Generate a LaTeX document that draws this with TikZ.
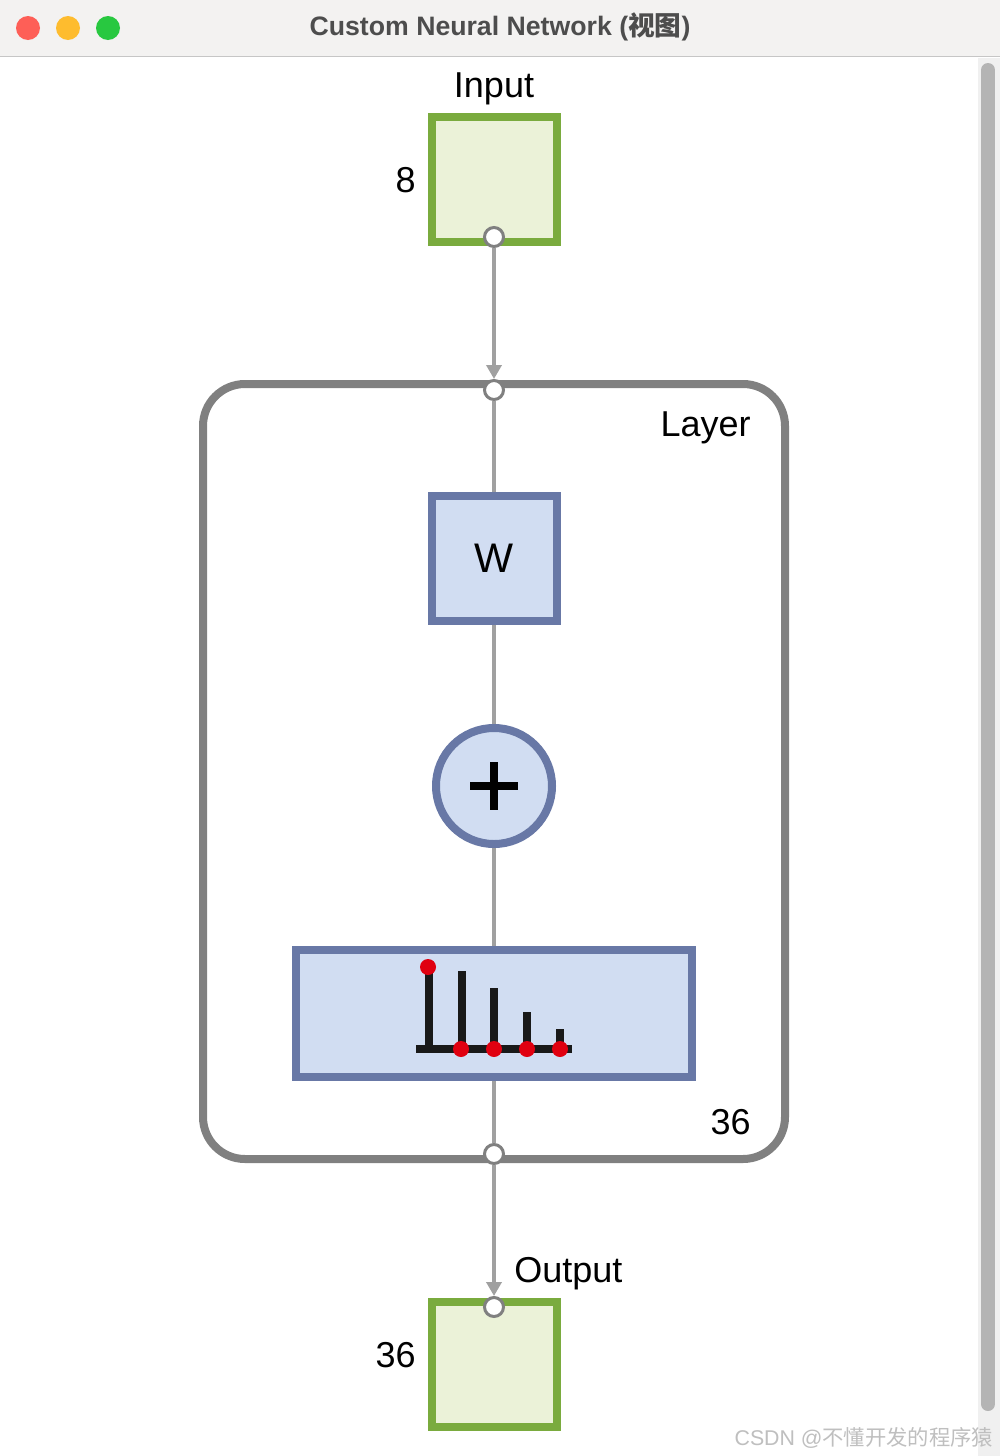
\documentclass[tikz,border=0pt]{standalone}
\usepackage{fontspec}
\setmainfont{Liberation Sans}
\newfontfamily\cjk{Noto Sans CJK SC}
\usetikzlibrary{arrows.meta}
\definecolor{grn}{HTML}{7AAB3E}
\definecolor{grnf}{HTML}{EBF2D8}
\definecolor{blu}{HTML}{6878A6}
\definecolor{bluf}{HTML}{D1DDF2}
\definecolor{lgray}{HTML}{A0A0A0}
\definecolor{dgray}{HTML}{808080}
\definecolor{rd}{HTML}{E00010}
\begin{document}
\begin{tikzpicture}[x=0.75pt,y=-0.75pt,
 io/.style={draw=grn,fill=grnf,line width=8pt*0.75},
 blk/.style={draw=blu,fill=bluf,line width=8pt*0.75},
 wire/.style={draw=lgray,line width=4.5pt*0.75},
 port/.style={circle,draw=dgray,fill=white,line width=3pt*0.75,minimum size=19pt*0.75,inner sep=0pt},
 lbl/.style={font=\fontsize{27pt}{27pt}\selectfont,inner sep=0pt}]
\useasboundingbox (0,0) rectangle (1000,1456);
\fill[white] (0,0) rectangle (1000,1456);
% title bar
\fill[fill={rgb,255:red,243;green,242;blue,241}] (0,0) rectangle (1000,56);
\draw[lgray!60,line width=0.75pt] (0,56.5) -- (1000,56.5);
\node[circle,fill={rgb,255:red,254;green,95;blue,87},minimum size=18pt,inner sep=0pt] (r) at (28,28) {};
\node[circle,fill={rgb,255:red,254;green,188;blue,46},minimum size=18pt,inner sep=0pt] (y) at (68,28) {};
\node[circle,fill={rgb,255:red,40;green,200;blue,64},minimum size=18pt,inner sep=0pt] (g) at (108,28) {};
\node[font=\bfseries\fontsize{20pt}{20pt}\selectfont,text={rgb,255:red,77;green,77;blue,77}] (title) at (500,27) {Custom Neural Network ({\cjk 视图})};
% scrollbar
\fill[black!6] (978,58) rectangle (1000,1456);
\draw[line width=14pt*0.75,line cap=round,color={rgb,255:red,180;green,180;blue,180}] (988,70) -- (988,1404);
% layer frame
\draw[dgray,line width=8pt*0.75,rounded corners=42pt*0.75] (203,384) rectangle (785,1159);
\node[lbl,anchor=base east] (ltxt) at (751,436) {Layer};
\node[lbl,anchor=base east] (n36) at (751,1134) {36};
% nodes
\node[io,minimum width=125pt*0.75,minimum height=125pt*0.75,inner sep=0pt] (in) at (494,179) {};
\node[lbl,anchor=base] (intxt) at (494,97) {Input};
\node[lbl,anchor=base east] (n8) at (416,192) {8};
\node[blk,minimum width=125pt*0.75,minimum height=125pt*0.75,inner sep=0pt,font=\fontsize{31pt}{31pt}\selectfont] (w) at (494,558) {W};
\node[blk,circle,minimum size=116pt*0.75,inner sep=0pt] (add) at (494,786) {};
\draw[line width=8pt*0.75,line cap=butt] (470,786) -- (518,786) (494,762) -- (494,810);
\node[blk,minimum width=396pt*0.75,minimum height=127pt*0.75,inner sep=0pt] (act) at (494,1013) {};
\node[io,minimum width=125pt*0.75,minimum height=125pt*0.75,inner sep=0pt] (out) at (494,1364) {};
\node[lbl,anchor=base west] (outtxt) at (514,1282) {Output};
\node[lbl,anchor=base east] (n36b) at (416,1367) {36};
% ports
\node[port] (p1) at (494,237) {};
\node[port] (p2) at (494,390) {};
\node[port] (p3) at (494,1154) {};
\node[port] (p4) at (494,1307) {};
% wires
\draw[wire,-{Triangle[length=14pt*0.75,width=15pt*0.75]}] (p1) -- (p2.north);
\draw[wire] (p2) -- (w.north);
\draw[wire] (w.south) -- (add.north);
\draw[wire] (add.south) -- (act.north);
\draw[wire] (act.south) -- (p3);
\draw[wire,-{Triangle[length=14pt*0.75,width=15pt*0.75]}] (p3) -- (p4.north);
% stem chart
\fill[black!90] (416,1045) rectangle (572,1053);
\foreach \x/\t in {429/967,462/971,494/988,527/1012,560/1029} \fill[black!90] (\x-4,\t) rectangle (\x+4,1053);
\fill[rd] (428,967) circle (8);
\foreach \x in {461,494,527,560} \fill[rd] (\x,1049) circle (8);
% watermark
\node[anchor=east,font=\fontsize{16pt}{16pt}\selectfont,text=black!25] (wm) at (998,1438) {CSDN @{\cjk 不懂开发的程序猿}};
\end{tikzpicture}
\end{document}
